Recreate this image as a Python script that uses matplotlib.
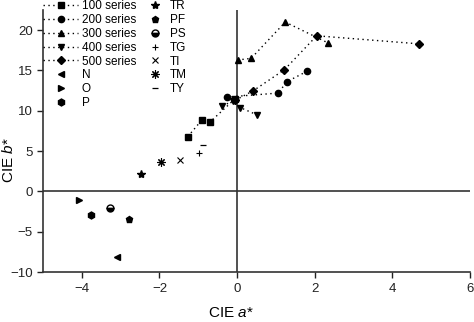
import numpy as np
import matplotlib.pyplot as plt

plt.rcParams['font.family'] = ['Liberation Sans', 'DejaVu Sans']
plt.rcParams['mathtext.fontset'] = 'custom'
plt.rcParams['mathtext.it'] = 'Liberation Sans:italic'
plt.rcParams['mathtext.rm'] = 'Liberation Sans'

# series (CIE a*, CIE b*)
s100_a = [-1.27, -0.90, -0.70, -0.05]
s100_b = [6.8, 8.9, 8.6, 11.5]
s200_a = [-0.27, 1.06, 1.28, 1.80]
s200_b = [11.7, 12.2, 13.6, 14.9]
s300_a = [0.01, 0.36, 1.24, 2.35]
s300_b = [16.3, 16.5, 21.0, 18.4]
s400_a = [-0.38, -0.11, 0.08, 0.51]
s400_b = [10.6, 11.2, 10.4, 9.5]
s500_a = [-0.05, 0.42, 1.22, 2.05, 4.69]
s500_b = [11.3, 12.5, 15.1, 19.3, 18.3]

# single samples
single_names = ['N', 'O', 'P', 'TR', 'PF', 'PS', 'TG', 'TI', 'TM', 'TY']
single_a = [-3.10, -4.06, -3.77, -2.47, -2.78, -3.27, -0.97, -1.47, -1.97, -0.87]
single_b = [-8.1, -1.1, -2.9, 2.2, -3.4, -2.0, 4.8, 3.9, 3.7, 5.7]

series = [
    ('100 series', s100_a, s100_b, 's'),
    ('200 series', s200_a, s200_b, 'o'),
    ('300 series', s300_a, s300_b, '^'),
    ('400 series', s400_a, s400_b, 'v'),
    ('500 series', s500_a, s500_b, 'D'),
]
single_style = {
    'N': dict(marker='<', ms=5),
    'O': dict(marker='>', ms=5),
    'P': dict(marker='h', ms=5),
    'TR': dict(marker='*', ms=6),
    'PF': dict(marker='p', ms=5),
    'PS': dict(marker='o', ms=5, fillstyle='top', mfc='white', markerfacecoloralt='black'),
    'TG': dict(marker='+', ms=5, mew=0.8),
    'TI': dict(marker='x', ms=5, mew=0.8),
    'TM': dict(marker=(8, 2, 0), ms=6, mew=0.8),
    'TY': dict(marker='_', ms=5, mew=0.9),
}

fig = plt.figure(figsize=(4.74, 3.22), dpi=100)
ax = fig.add_axes([0.0907, 0.155, 0.901, 0.814])

ax.axhline(0, color='#333333', lw=1.2, zorder=1)
ax.axvline(0, color='#333333', lw=1.2, zorder=1)

h1 = []
for name, a, b, m in series:
    ms = 4 if m == 'D' else 4.5
    line, = ax.plot(a, b, linestyle=(0, (1, 2.5)), color='black', lw=1.0,
                    marker=m, ms=ms, mfc='black', mec='black', label=name, zorder=3)
    h1.append(line)

handles = {}
for name, a, b in zip(single_names, single_a, single_b):
    st = dict(single_style[name])
    p, = ax.plot([a], [b], linestyle='none', color='black', mec='black', label=name,
                 zorder=3, **st)
    handles[name] = p

ax.set_xlim(-5, 6)
ax.set_ylim(-10, 22.5)
ax.set_xticks([-4, -2, 0, 2, 4, 6])
ax.set_yticks([-10, -5, 0, 5, 10, 15, 20])
for sp in ['top', 'right']:
    ax.spines[sp].set_visible(False)
for sp in ['left', 'bottom']:
    ax.spines[sp].set_color('#333333')
    ax.spines[sp].set_linewidth(1.2)
ax.tick_params(direction='out', length=4, width=1, labelsize=9.5, colors='#222222')

# axis titles placed like in the original figure
fig.text(231 / 474, 1 - 313 / 322, 'CIE $a$*', fontsize=11, ha='center', va='center')
fig.text(9 / 474, 1 - 160 / 322, 'CIE $b$*', fontsize=11, ha='center', va='center',
         rotation=90)

leg1 = ax.legend(h1 + [handles[n] for n in ['N', 'O', 'P']],
                 [h.get_label() for h in h1] + ['N', 'O', 'P'],
                 loc='upper left', bbox_to_anchor=(0.0, 1.038), frameon=False,
                 fontsize=8.5, handlelength=3.0, handletextpad=0.3,
                 labelspacing=0.16, borderaxespad=0, borderpad=0)
ax.add_artist(leg1)
col2 = ['TR', 'PF', 'PS', 'TG', 'TI', 'TM', 'TY']
ax.legend([handles[n] for n in col2], col2, loc='upper left',
          bbox_to_anchor=(0.248, 1.038), frameon=False, fontsize=8.5,
          handlelength=1.0, handletextpad=0.8, labelspacing=0.16,
          borderaxespad=0, borderpad=0)

fig.savefig('out.png', dpi=100)
